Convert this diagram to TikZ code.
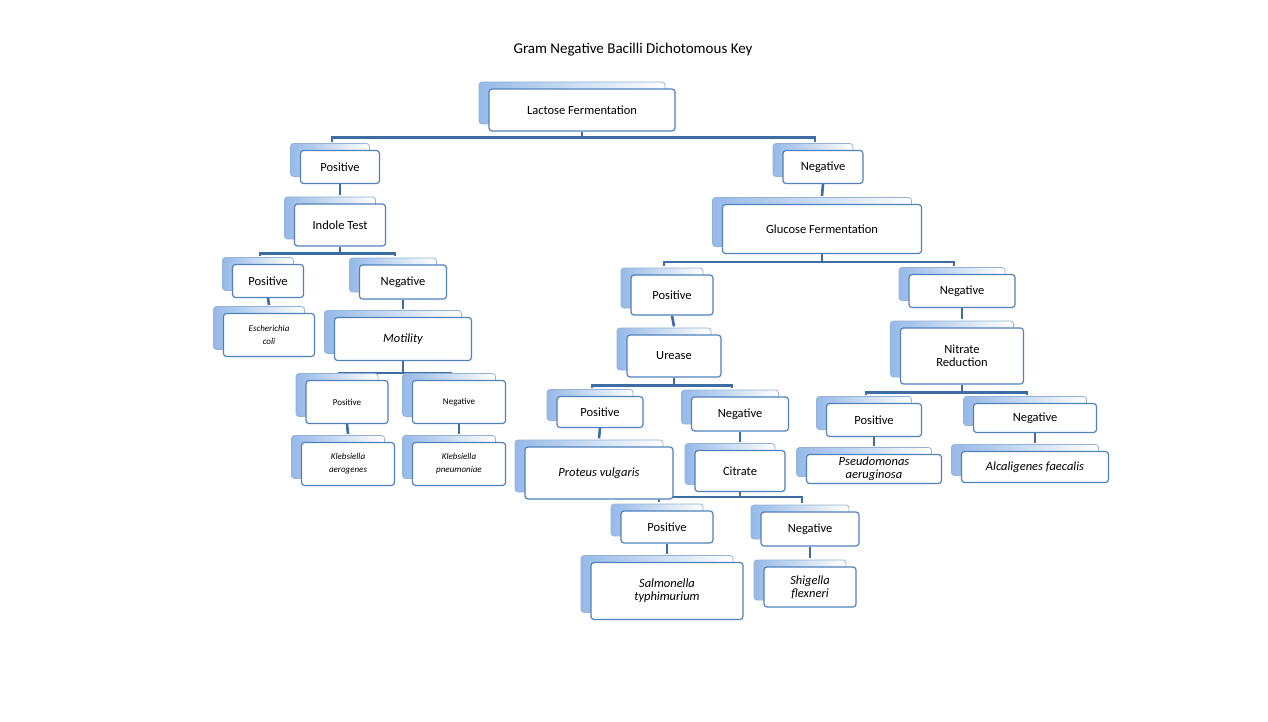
\documentclass[tikz,border=0pt]{standalone}
\usepackage{fontspec}
\setmainfont{Carlito}
\usetikzlibrary{backgrounds}
\definecolor{bord}{RGB}{79,129,189}
\definecolor{linec}{RGB}{62,108,165}
\definecolor{backb}{RGB}{150,185,232}
\tikzset{
 front/.style={draw=bord,line width=1.2pt,fill=white,rounded corners=3pt,align=center,inner sep=1pt,font=\fontsize{12.5}{13}\selectfont},
 backbox/.style={draw=bord!60,line width=0.8pt,rounded corners=3pt,left color=backb,right color=white},
 conn/.style={draw=linec,line width=2.6pt}
}
\newcommand\kb[6]{%
 \path[backbox] ({#2-#4/2-10},{#3-#5/2-7}) rectangle ({#2+#4/2-10},{#3+#5/2-7});
 \node[front,minimum width=#4,minimum height=#5] (#1) at (#2,#3) {#6};}
\newcommand\cn[3]{\draw[conn] (#1.south) -- ++(0,#2) -| ([xshift=-8pt,yshift=8pt]#3.north);}
\newcommand\cs[2]{\draw[conn] (#1.south) -- ([yshift=8pt]#2.north);}
\begin{document}
\begin{tikzpicture}[x=1pt,y=-1pt]
\useasboundingbox (0,0) rectangle (1268,722);
\node[font=\fontsize{15}{16}\selectfont] (title) at (633,50) {Gram Negative Bacilli Dichotomous Key};
\kb{lac}{582}{110}{186}{42}{Lactose Fermentation}
\kb{pa}{340}{167}{79}{33}{Positive}
\kb{na}{823}{167}{80}{33}{Negative}
\kb{ind}{340}{225}{91}{42}{Indole Test}
\kb{glu}{822}{229}{199}{49}{Glucose Fermentation}
\kb{pb}{268}{281}{71}{33}{Positive}
\kb{nb}{403}{282}{87}{34}{Negative}
\kb{eco}{269}{335}{91}{43}{\itshape\small Escherichia\\\itshape\small coli}
\kb{mot}{403}{339}{137}{43}{\itshape Motility}
\kb{pc}{347}{402}{82}{43}{\small Positive}
\kb{nc}{459}{402}{93}{43}{\small Negative}
\kb{kae}{348}{464}{93}{43}{\itshape\small Klebsiella\\\itshape\small aerogenes}
\kb{kpn}{459}{464}{93}{43}{\itshape\small Klebsiella\\\itshape\small pneumoniae}
\kb{pd}{672}{295}{82}{40}{Positive}
\kb{nd}{962}{291}{106}{33}{Negative}
\kb{ure}{674}{356}{94}{42}{Urease}
\kb{nit}{962}{356}{123}{56}{Nitrate\\Reduction}
\kb{pe}{600}{412}{86}{31}{Positive}
\kb{ne}{740}{414}{97}{34}{Negative}
\kb{pro}{599}{473}{148}{52}{\itshape Proteus vulgaris}
\kb{cit}{740}{471}{90}{41}{Citrate}
\kb{pf}{874}{420}{95}{33}{Positive}
\kb{nf}{1035}{418}{123}{29}{Negative}
\kb{pse}{874}{469}{135}{29}{\itshape Pseudomonas\\\itshape aeruginosa}
\kb{alc}{1035}{467}{147}{31}{\itshape Alcaligenes faecalis}
\kb{pg}{667}{527}{92}{32}{Positive}
\kb{ng}{810}{529}{98}{34}{Negative}
\kb{sal}{667}{591}{152}{57}{\itshape Salmonella\\\itshape typhimurium}
\kb{shi}{810}{587}{92}{40}{\itshape Shigella\\\itshape flexneri}
\begin{pgfonlayer}{background}
\cn{lac}{6}{pa}\cn{lac}{6}{na}
\cs{pa}{ind}\cs{na}{glu}
\cn{ind}{7}{pb}\cn{ind}{7}{nb}
\cs{pb}{eco}\cs{nb}{mot}
\cn{mot}{12}{pc}\cn{mot}{12}{nc}
\cs{pc}{kae}\cs{nc}{kpn}
\cn{glu}{8}{pd}\cn{glu}{8}{nd}
\cs{pd}{ure}\cs{nd}{nit}
\cn{ure}{8}{pe}\cn{ure}{8}{ne}
\cs{pe}{pro}\cs{ne}{cit}
\cn{nit}{8}{pf}\cn{nit}{8}{nf}
\cs{pf}{pse}\cs{nf}{alc}
\cn{cit}{5}{pg}\cn{cit}{5}{ng}
\cs{pg}{sal}\cs{ng}{shi}
\end{pgfonlayer}
\end{tikzpicture}
\end{document}
